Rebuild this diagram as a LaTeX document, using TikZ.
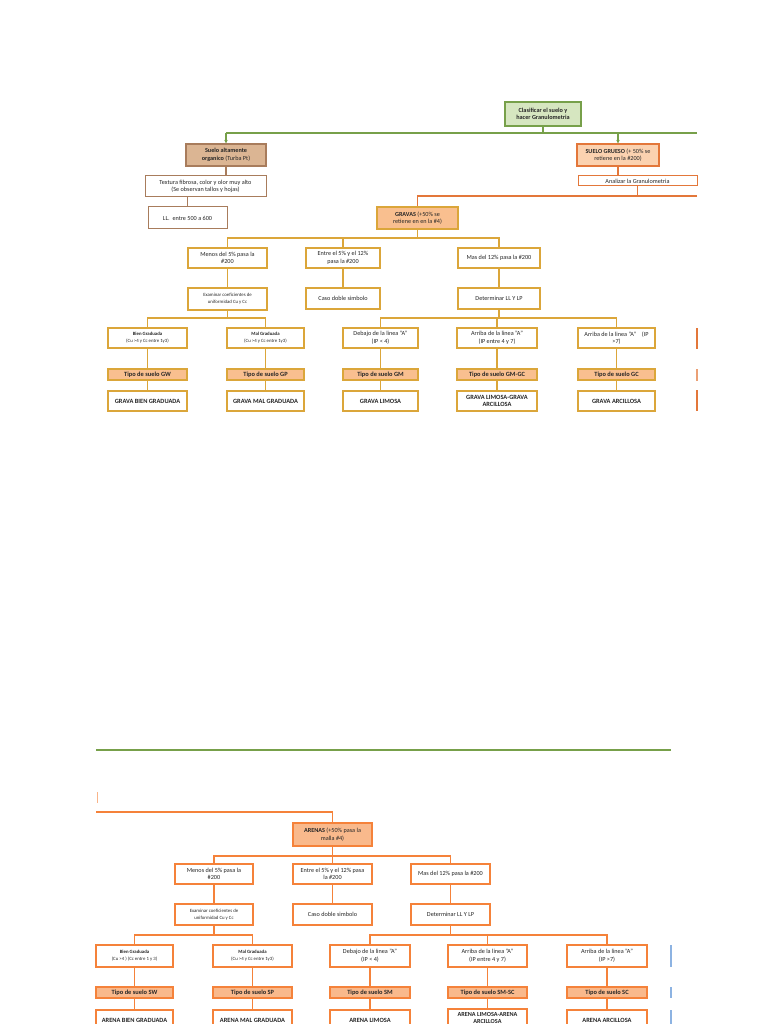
\documentclass[tikz,border=0pt]{standalone}
\usepackage{fontspec}
\setmainfont{Carlito}
\usetikzlibrary{arrows.meta}
\definecolor{grD}{HTML}{77A04A}
\definecolor{grL}{HTML}{D6E6C0}
\definecolor{brD}{HTML}{A87C5C}
\definecolor{brL}{HTML}{DBB593}
\definecolor{orD}{HTML}{E3773A}
\definecolor{orL}{HTML}{FBD2B0}
\definecolor{goB}{HTML}{DBA63A}
\definecolor{orM}{HTML}{F9BF8F}
\definecolor{boD}{HTML}{F5823A}
\definecolor{boF}{HTML}{F9B98C}
\definecolor{blu}{HTML}{8DB3E2}
\newcommand\mybox[7]{\node[#6, minimum width={(#4)-(#2)}, minimum height={(#5)-(#3)}] (#1) at ({((#2)+(#4))/2},{((#3)+(#5))/2}) {#7};}
\tikzset{
 base/.style={rectangle, inner sep=0pt, align=center, text=black!85, font=\fontsize{6.2}{7.6}\selectfont},
 smallf/.style={font=\fontsize{4.8}{6.8}\selectfont},
 boldf/.style={font=\fontsize{6.4}{7.6}\selectfont\bfseries},
 rootb/.style={base, draw=grD, fill=grL, line width=1.2pt},
 brownf/.style={base, draw=brD, fill=brL, line width=1.2pt},
 brownw/.style={base, draw=brD, fill=white, line width=1pt},
 orgf/.style={base, draw=orD, fill=orL, line width=1.2pt},
 orgw/.style={base, draw=orD, fill=white, line width=1pt},
 gravf/.style={base, draw=goB, fill=orM, line width=1.2pt},
 goldw/.style={base, draw=goB, fill=white, line width=1.2pt},
 tipoT/.style={base, draw=goB, fill=orM, line width=1.2pt, boldf},
 finT/.style={goldw, boldf},
 bw/.style={base, draw=boD, fill=white, line width=1.2pt},
 bf/.style={base, draw=boD, fill=boF, line width=1.2pt},
 tipoB/.style={bf, boldf},
 finB/.style={bw, boldf},
 gl/.style={draw=grD, line width=1.4pt},
 bl/.style={draw=brD, line width=1.2pt},
 ol/.style={draw=orD, line width=1.4pt},
 yl/.style={draw=goB, line width=1.4pt},
 ol2/.style={draw=boD, line width=1.8pt},
 tip/.style={-{Stealth[length=3.5pt,width=3.5pt]}},
}
\begin{document}
\begin{tikzpicture}[x=1pt,y=-1pt]
\fill[white] (0,0) rectangle (768,1024);
\useasboundingbox (0,0) rectangle (768,1024);
% ---------------- top part ----------------
\mybox{root}{505}{102}{581}{126}{rootb}{\textbf{Clasificar el suelo y}\\\textbf{hacer Granulometria}}
\mybox{sa}{186}{144}{266}{166}{brownf}{\textbf{Suelo altamente}\\\textbf{organico} (Turba Pt)}
\mybox{gr}{577}{144}{659}{166}{orgf}{\textbf{SUELO GRUESO} (+ 50\% se\\retiene en la \#200)}
\mybox{tex}{145}{176}{266}{197}{brownw}{Textura fibrosa, color y olor muy alto\\(Se observan tallos y hojas)}
\mybox{ll}{148}{207}{227}{229}{brownw}{LL.\ \ entre 500 a 600}
\mybox{an}{578}{176}{697}{186}{orgw}{Analizar la Granulometria}
\mybox{gravas}{377}{207}{458}{229}{gravf}{\textbf{GRAVAS} (+50\% se\\retiene en en la \#4)}
\mybox{menos}{188}{248}{267}{268}{goldw}{Menos del 5\% pasa la\\\#200}
\mybox{entre}{306}{248}{380}{268}{goldw}{Entre el 5\% y el 12\%\\pasa la \#200}
\mybox{mas}{458}{248}{540}{268}{goldw}{Mas del 12\% pasa la \#200}
\mybox{exam}{188}{288}{267}{310}{goldw,smallf}{Examinar coeficientes de\\uniformidad Cu y Cc}
\mybox{caso}{306}{288}{380}{309}{goldw}{Caso doble simbolo}
\mybox{det}{458}{288}{540}{309}{goldw}{Determinar LL Y LP}
\mybox{bienT}{108}{328}{187}{348}{goldw,smallf}{\textbf{Bien Graduada}\\(Cu >4 y Cc entre 1y3)}
\mybox{malT}{227}{328}{304}{348}{goldw,smallf}{\textbf{Mal Graduada}\\(Cu >4 y Cc entre 1y3)}
\mybox{debT}{343}{328}{418}{348}{goldw}{Debajo de la linea "A"\\(IP < 4)}
\mybox{arrT}{457}{328}{537}{348}{goldw}{Arriba de la linea "A"\\(IP entre 4 y 7)}
\mybox{arr2T}{578}{328}{655}{348}{goldw}{Arriba de la linea "A"\ \ \ \ (IP\\>7)}
\mybox{tGW}{108}{369}{187}{380}{tipoT}{Tipo de suelo GW}
\mybox{tGP}{227}{369}{304}{380}{tipoT}{Tipo de suelo GP}
\mybox{tGM}{343}{369}{418}{380}{tipoT}{Tipo de suelo GM}
\mybox{tGMGC}{457}{369}{537}{380}{tipoT}{Tipo de suelo GM-GC}
\mybox{tGC}{578}{369}{655}{380}{tipoT}{Tipo de suelo GC}
\mybox{fGW}{108}{391}{187}{411}{finT}{GRAVA BIEN GRADUADA}
\mybox{fGP}{227}{391}{304}{411}{finT}{GRAVA MAL GRADUADA}
\mybox{fGM}{343}{391}{418}{411}{finT}{GRAVA LIMOSA}
\mybox{fGMGC}{457}{391}{537}{411}{finT}{GRAVA LIMOSA-GRAVA\\ARCILLOSA}
\mybox{fGC}{578}{391}{655}{411}{finT}{GRAVA ARCILLOSA}
% green connectors
\coordinate (gR) at (697,133);
\draw[gl] (root.south) -- (root.south |- gR);
\draw[gl] (sa.north |- gR) -- (gR);
\draw[gl,tip] (sa.north |- gR) -- (sa.north);
\draw[gl,tip] (gr.north |- gR) -- (gr.north);
% brown connectors
\draw[bl] (sa.south) -- (sa.south |- tex.north);
\draw[bl] (ll.north) -- (ll.north |- tex.south);
% orange connectors
\coordinate (oR) at (697,196);
\draw[ol] (gr.south) -- (gr.south |- an.north);
\draw[ol] (an.south) -- (an.south |- oR);
\draw[ol] (oR) -| (gravas.north);
% gold connectors
\coordinate (b1) at (0,238);
\draw[yl] (gravas.south) -- (gravas.south |- b1);
\draw[yl] (menos.north) |- (b1 -| mas.north) -- (mas.north);
\draw[yl] (entre.north) -- (entre.north |- b1);
\draw[yl] (menos.south) -- (exam.north);
\draw[yl] (entre.south) -- (caso.north);
\draw[yl] (mas.south) -- (det.north);
\coordinate (b2) at (0,318);
\draw[yl] (exam.south) -- (exam.south |- b2);
\draw[yl] (bienT.north) |- (b2 -| malT.north) -- (malT.north);
\draw[yl] (det.south) -- (det.south |- b2);
\draw[yl] (debT.north) |- (b2 -| arr2T.north) -- (arr2T.north);
\draw[yl] (arrT.north) -- (arrT.north |- b2);
\foreach \a/\b/\c in {bienT/tGW/fGW, malT/tGP/fGP, debT/tGM/fGM, arrT/tGMGC/fGMGC, arr2T/tGC/fGC}{
  \draw[yl] (\a.south) -- (\b.north);
  \draw[yl] (\b.south) -- (\c.north);
}
% cut-off boxes at right edge
\draw[orD, line width=1.5pt] (697,328) -- (697,349);
\draw[orD!70, line width=1.5pt] (697,369) -- (697,381);
\draw[orD, line width=1.5pt] (697,390) -- (697,411);
% ---------------- separator ----------------
\draw[grD, line width=1.6pt] (96,750) -- (671,750);
% ---------------- bottom part ----------------
\draw[boD!60, line width=1pt] (97,792) -- (97,803);
\mybox{arenas}{293}{823}{372}{846}{bf}{\textbf{ARENAS} (+50\% pasa la\\malla \#4)}
\mybox{menosB}{175}{864}{253}{884}{bw}{Menos del 5\% pasa la\\\#200}
\mybox{entreB}{293}{864}{372}{884}{bw}{Entre el 5\% y el 12\% pasa\\la \#200}
\mybox{masB}{411}{864}{490}{884}{bw}{Mas del 12\% pasa la \#200}
\mybox{examB}{175}{904}{253}{925}{bw,smallf}{Examinar coeficientes de\\uniformidad Cu y Cc}
\mybox{casoB}{293}{904}{372}{925}{bw}{Caso doble simbolo}
\mybox{detB}{411}{904}{490}{925}{bw}{Determinar LL Y LP}
\mybox{bienB}{96}{945}{173}{967}{bw,smallf}{\textbf{Bien Graduada}\\(Cu >4 ) (Cc entre 1 y 3)}
\mybox{malB}{213}{945}{292}{967}{bw,smallf}{\textbf{Mal Graduada}\\(Cu >4 y Cc entre 1y3)}
\mybox{debB}{330}{945}{410}{967}{bw}{Debajo de la linea "A"\\(IP < 4)}
\mybox{arrB}{448}{945}{527}{967}{bw}{Arriba de la linea "A"\\(IP entre 4 y 7)}
\mybox{arr2B}{567}{945}{647}{967}{bw}{Arriba de la linea "A"\\(IP >7)}
\mybox{tSW}{96}{987}{173}{998}{tipoB}{Tipo de suelo SW}
\mybox{tSP}{213}{987}{292}{998}{tipoB}{Tipo de suelo SP}
\mybox{tSM}{330}{987}{410}{998}{tipoB}{Tipo de suelo SM}
\mybox{tSMSC}{448}{987}{527}{998}{tipoB}{Tipo de suelo SM-SC}
\mybox{tSC}{567}{987}{647}{998}{tipoB}{Tipo de suelo SC}
\mybox{fSW}{96}{1010}{173}{1030}{finB}{ARENA BIEN GRADUADA}
\mybox{fSP}{213}{1010}{292}{1030}{finB}{ARENA MAL GRADUADA}
\mybox{fSM}{330}{1010}{410}{1030}{finB}{ARENA LIMOSA}
\mybox{fSMSC}{448}{1009}{527}{1027}{finB,font=\fontsize{6.2}{6.6}\selectfont\bfseries}{ARENA LIMOSA-ARENA\\ARCILLOSA}
\mybox{fSC}{567}{1010}{647}{1030}{finB}{ARENA ARCILLOSA}
\coordinate (aL) at (96,812);
\draw[ol2] (aL) -| (arenas.north);
\coordinate (b3) at (0,856);
\draw[ol2] (arenas.south) -- (arenas.south |- b3);
\draw[ol2] (menosB.north) |- (b3 -| masB.north) -- (masB.north);
\draw[ol2] (entreB.north) -- (entreB.north |- b3);
\draw[ol2] (menosB.south) -- (examB.north);
\draw[ol2] (entreB.south) -- (casoB.north);
\draw[ol2] (masB.south) -- (detB.north);
\coordinate (b4) at (0,935);
\draw[ol2] (examB.south) -- (examB.south |- b4);
\draw[ol2] (bienB.north) |- (b4 -| malB.north) -- (malB.north);
\draw[ol2] (detB.south) -- (detB.south |- b4);
\draw[ol2] (debB.north) |- (b4 -| arr2B.north) -- (arr2B.north);
\draw[ol2] (arrB.north) -- (arrB.north |- b4);
\foreach \a/\b/\c in {bienB/tSW/fSW, malB/tSP/fSP, debB/tSM/fSM, arrB/tSMSC/fSMSC, arr2B/tSC/fSC}{
  \draw[ol2] (\a.south) -- (\b.north);
  \draw[ol2] (\b.south) -- (\c.north);
}
% blue cut-off fragments
\draw[blu, line width=1.2pt] (671,945) -- (671,967);
\draw[blu, line width=1.2pt] (671,987) -- (671,998);
\draw[blu, line width=1.2pt] (671,1010) -- (671,1024);
\end{tikzpicture}
\end{document}
